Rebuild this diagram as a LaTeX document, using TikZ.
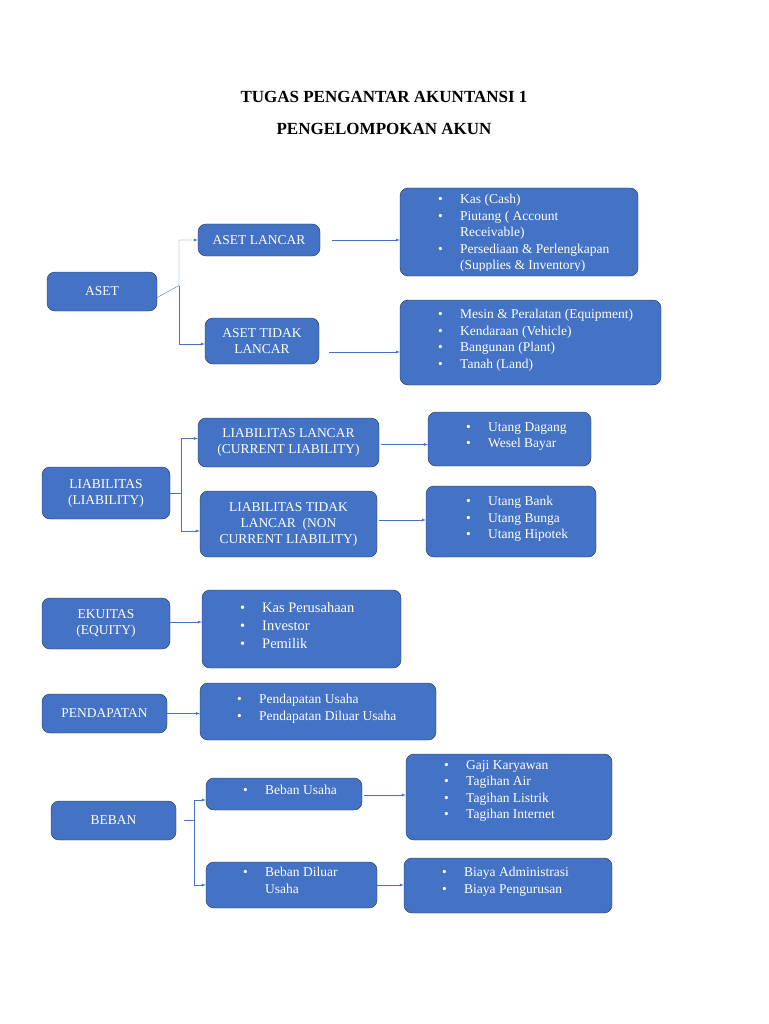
\documentclass[tikz,border=0pt]{standalone}
\usepackage{fontspec}
\setmainfont{Liberation Serif}
\definecolor{boxblue}{RGB}{68,114,196}
\definecolor{boxline}{RGB}{32,48,80}
\newcommand{\itm}{\makebox[22pt][l]{\textbullet}}
\newcommand{\hng}{\hspace*{22pt}}
\tikzset{
  box/.style={draw=boxline, fill=boxblue, rounded corners=8pt, text=white, align=center, inner sep=0pt, font=\fontsize{13.5}{16}\selectfont},
  lst/.style={text=white, align=left, anchor=north west, inner sep=0pt, font=\fontsize{13.5}{16.6}\selectfont},
  arr/.style={draw=boxblue, -latex},
}
\begin{document}
\begin{tikzpicture}[x=1pt, y=-1pt]
\useasboundingbox (0,0) rectangle (768,1024);

\node[font=\bfseries\fontsize{17}{20}\selectfont] (title) at (384,97) {TUGAS PENGANTAR AKUNTANSI 1};
\node[font=\bfseries\fontsize{17}{20}\selectfont] (subtitle) at (384,129) {PENGELOMPOKAN AKUN};

% aset
\node[box, minimum width=110pt, minimum height=39pt] (aset) at (102,291.5) {ASET};
\node[box, minimum width=122pt, minimum height=32pt] (al) at (259,240) {ASET LANCAR};
\node[box, minimum width=114pt, minimum height=46pt] (atl) at (262,341) {ASET TIDAK\\LANCAR};
\node[box, minimum width=238pt, minimum height=88pt] (alist) at (519,232) {};
\begin{scope}
\clip[rounded corners=8pt] (400.5,188.5) rectangle (637.5,270);
\node[lst] (alisttext) at (438,194) {\itm Kas (Cash)\\ \itm Piutang ( Account\\ \hng Receivable)\\ \itm Persediaan \& Perlengkapan\\ \hng (Supplies \& Inventory)};
\end{scope}
\node[box, minimum width=261pt, minimum height=85pt] (atlist) at (530.5,342.5) {};
\node[lst] (atlisttext) at (438,309) {\itm Mesin \& Peralatan (Equipment)\\ \itm Kendaraan (Vehicle)\\ \itm Bangunan (Plant)\\ \itm Tanah (Land)};

% liabilitas
\node[box, minimum width=128pt, minimum height=52pt] (liab) at (106,493) {LIABILITAS\\(LIABILITY)};
\node[box, minimum width=181pt, minimum height=49pt] (ll) at (288.5,442.5) {LIABILITAS LANCAR\\(CURRENT LIABILITY)};
\node[box, minimum width=177pt, minimum height=66pt] (ltl) at (288.5,524) {LIABILITAS TIDAK\\LANCAR\ \ (NON\\CURRENT LIABILITY)};
\node[box, minimum width=163pt, minimum height=54pt] (llist) at (509.5,439) {};
\node[lst] (llisttext) at (466,422) {\itm Utang Dagang\\ \itm Wesel Bayar};
\node[box, minimum width=170pt, minimum height=71pt] (ltlist) at (511,521.5) {};
\node[lst] (ltlisttext) at (466,496) {\itm Utang Bank\\ \itm Utang Bunga\\ \itm Utang Hipotek};

% ekuitas
\node[box, minimum width=128pt, minimum height=51pt] (ekuitas) at (106,623.5) {EKUITAS\\(EQUITY)};
\node[box, minimum width=199pt, minimum height=78pt] (elist) at (301.5,629) {};
\node[lst, font=\fontsize{14.5}{18}\selectfont] (elisttext) at (240,602) {\itm Kas Perusahaan\\ \itm Investor\\ \itm Pemilik};

% pendapatan
\node[box, minimum width=125pt, minimum height=39pt] (pendapatan) at (104.5,713.5) {PENDAPATAN};
\node[box, minimum width=236pt, minimum height=57pt] (plist) at (318,711.5) {};
\node[lst] (plisttext) at (237,694) {\itm Pendapatan Usaha\\ \itm Pendapatan Diluar Usaha};

% beban
\node[box, minimum width=125pt, minimum height=39pt] (beban) at (113.5,820.5) {BEBAN};
\node[box, minimum width=156pt, minimum height=32pt] (bu) at (284,794) {};
\node[lst] (butext) at (243,785) {\itm Beban Usaha};
\node[box, minimum width=171pt, minimum height=46pt] (bd) at (291.5,885) {};
\node[lst] (bdtext) at (243,867) {\itm Beban Diluar\\ \hng Usaha};
\node[box, minimum width=206pt, minimum height=86pt] (bulist) at (509,797) {};
\node[lst] (bulisttext) at (444,760) {\itm Gaji Karyawan\\ \itm Tagihan Air\\ \itm Tagihan Listrik\\ \itm Tagihan Internet};
\node[box, minimum width=208pt, minimum height=55pt] (bdlist) at (508,885.5) {};
\node[lst] (bdlisttext) at (442,867) {\itm Biaya Administrasi\\ \itm Biaya Pengurusan};

% branches
\draw[arr] ([yshift=-6pt]aset.east) -- (179,285.5) |- (al.west);
\draw[arr] (179,285.5) |- ([yshift=-3pt]atl.west);
\draw[arr] (liab.east) -- (181,493) |- ([yshift=4pt]ll.west);
\draw[arr] (181,493) |- ([yshift=-7pt]ltl.west);
\draw[arr] ([xshift=8pt]beban.east) -- (194,820.5) |- ([yshift=-6pt]bu.west);
\draw[arr] (194,820.5) |- (bd.west);

% to the lists
\draw[arr] ([xshift=12pt]al.east) -- (alist.west |- al.east);
\draw[arr] ([xshift=10pt,yshift=-11pt]atl.east) -- ([yshift=-11pt]atlist.west |- atl.east);
\draw[arr] ([xshift=2pt,yshift=-2pt]ll.east) -- ([yshift=-2pt]llist.west |- ll.east);
\draw[arr] ([xshift=2pt,yshift=4pt]ltl.east) -- ([yshift=4pt]ltlist.west |- ltl.east);
\draw[arr] ([yshift=1.5pt]ekuitas.east) -- ([yshift=1.5pt]elist.west |- ekuitas.east);
\draw[arr] (pendapatan.east) -- (plist.west |- pendapatan.east);
\draw[arr] ([xshift=2pt,yshift=-1pt]bu.east) -- ([yshift=-1pt]bulist.west |- bu.east);
\draw[arr] (bd.east) -- (bdlist.west |- bd.east);
\end{tikzpicture}
\end{document}
